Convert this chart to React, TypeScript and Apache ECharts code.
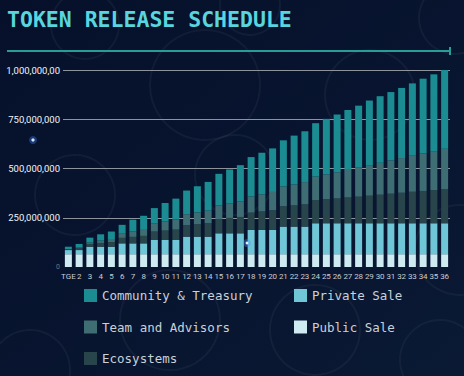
import React, { useEffect, useRef } from "react";
import * as echarts from "echarts";

const categories = ["TGE","2","3","4","5","6","7","8","9","10","11","12","13","14","15","16","17","18","19","20","21","22","23","24","25","26","27","28","29","30","31","32","33","34","35","36"];

// values in millions of tokens
const publicSale = [65,65,65,65,65,65,65,65,65,65,65,65,65,65,65,65,65,65,65,65,65,65,65,65,65,65,65,65,65,65,65,65,65,65,65,65];
const privateSale = [21,21,38,38,38,55,55,55,72,72,72,89,89,89,106,106,106,123,123,123,140,140,140,157,157,157,157,157,157,157,157,157,157,157,157,157];
const ecosystems = [5,9,14,19,23,28,33,38,43,48,53,58,63,68,73,78,83,88,94,100,104,108,113,118,122,126,131,135,140,145,150,155,160,164,169,174];
const teamAdvisors = [0,4,7,12,16,21,28,35,42,47,51,56,60,64,69,73,78,82,87,93,100,106,113,119,126,133,140,147,155,162,169,176,183,190,197,204];
const community = [12,18,25,32,38,45,59,67,77,93,106,120,133,146,160,173,185,200,211,221,234,248,258,271,282,293,304,315,328,338,347,356,367,380,390,400];

const yTickLabels = ["0", "250,000,000", "500,000,000", "750,000,000", "1,000,000,00"];

const seriesNames = ["Public Sale", "Private Sale", "Ecosystems", "Team and Advisors", "Community & Treasury"];
const seriesColors = ["#cdebf1", "#6fc6d6", "#28454b", "#3f6d74", "#1b8c92"];
const seriesData = [publicSale, privateSale, ecosystems, teamAdvisors, community];

export default function App() {
  const ref = useRef<HTMLDivElement>(null);
  useEffect(() => {
    document.body.style.margin = "0";
    const chart = echarts.init(ref.current!, undefined, { renderer: "svg" });
    const ring = (cx: number, cy: number, r: number) => ({
      type: "circle",
      shape: { cx, cy, r },
      style: { fill: "none", stroke: "rgba(255,255,255,0.045)", lineWidth: 2 },
      silent: true,
      z: -10,
    });
    const legendText = { color: "#c9d1d9", fontFamily: "DejaVu Sans Mono", fontSize: 12.5 };
    chart.setOption({
      animation: false,
      backgroundColor: {
        type: "linear", x: 0, y: 0, x2: 1, y2: 1,
        colorStops: [
          { offset: 0, color: "#06102a" },
          { offset: 1, color: "#0a1934" },
        ],
      },
      title: {
        text: "TOKEN RELEASE SCHEDULE",
        left: 2,
        top: 3,
        textStyle: {
          fontFamily: "DejaVu Sans Mono",
          fontWeight: "bold",
          fontSize: 21.5,
          color: "#58d5de",
        },
      },
      graphic: [
        ring(85, 25, 34),
        ring(250, 5, 30),
        ring(455, 18, 36),
        ring(205, 85, 55),
        ring(370, 95, 45),
        ring(75, 195, 40),
        ring(235, 175, 40),
        ring(460, 250, 45),
        ring(170, 320, 50),
        ring(315, 330, 45),
        ring(30, 370, 40),
        ring(440, 360, 40),
        {
          type: "line",
          shape: { x1: 7, y1: 51, x2: 450, y2: 51 },
          style: { stroke: "#2a9c98", lineWidth: 2 },
          silent: true,
        },
        {
          type: "rect",
          shape: { x: 449, y: 47, width: 2, height: 8 },
          style: { fill: "#2a9c98" },
          silent: true,
        },
        {
          type: "circle",
          shape: { cx: 33, cy: 140, r: 4 },
          style: { fill: "rgba(60,130,255,0.35)" },
          silent: true,
        },
        {
          type: "circle",
          shape: { cx: 33, cy: 140, r: 1.6 },
          style: { fill: "#d6e8ff" },
          silent: true,
        },
        {
          type: "circle",
          shape: { cx: 247, cy: 243, r: 4 },
          style: { fill: "rgba(70,150,255,0.35)" },
          silent: true,
          z: 100,
        },
        {
          type: "circle",
          shape: { cx: 247, cy: 243, r: 1.4 },
          style: { fill: "#dff0ff" },
          silent: true,
          z: 101,
        },
      ],
      grid: { left: 63, right: 14, top: 70, bottom: 109 },
      legend: [
        {
          data: ["Community & Treasury", "Team and Advisors", "Ecosystems"],
          orient: "vertical",
          left: 84,
          top: 289,
          padding: 0,
          itemWidth: 13,
          itemHeight: 13,
          itemGap: 18.5,
          icon: "rect",
          textStyle: legendText,
        },
        {
          data: ["Private Sale", "Public Sale"],
          orient: "vertical",
          left: 294,
          top: 289,
          padding: 0,
          itemWidth: 13,
          itemHeight: 13,
          itemGap: 18.5,
          icon: "rect",
          textStyle: legendText,
        },
      ],
      xAxis: {
        type: "category",
        data: categories,
        axisLine: { show: false },
        axisTick: { show: false },
        axisLabel: {
          color: "#c8ccd4",
          fontFamily: "Roboto",
          fontSize: 8,
          margin: 5,
          interval: 0,
        },
      },
      yAxis: {
        type: "value",
        min: 0,
        max: 1000,
        interval: 250,
        axisLabel: {
          margin: 3,
          formatter: (v: number) => {
            const idx = Math.round(v / 250);
            return idx === 0 ? "{z|" + yTickLabels[0] + "}" : yTickLabels[idx];
          },
          color: "#f2f4f7",
          fontFamily: "Roboto",
          fontSize: 9.5,
          rich: { z: { color: "#6c7482", fontSize: 7, fontFamily: "Roboto" } },
        },
        splitLine: {
          lineStyle: {
            color: ["rgba(0,0,0,0)", "#8d929b", "#8d929b", "#8d929b", "#8d929b"],
            width: 1.2,
          },
        },
      },
      series: seriesNames.map((name, i) => ({
        name,
        type: "bar",
        stack: "total",
        barWidth: 7,
        data: seriesData[i],
        itemStyle: { color: seriesColors[i] },
      })),
    });
    return () => chart.dispose();
  }, []);
  return <div ref={ref} style={{ width: 464, height: 376 }} />;
}
